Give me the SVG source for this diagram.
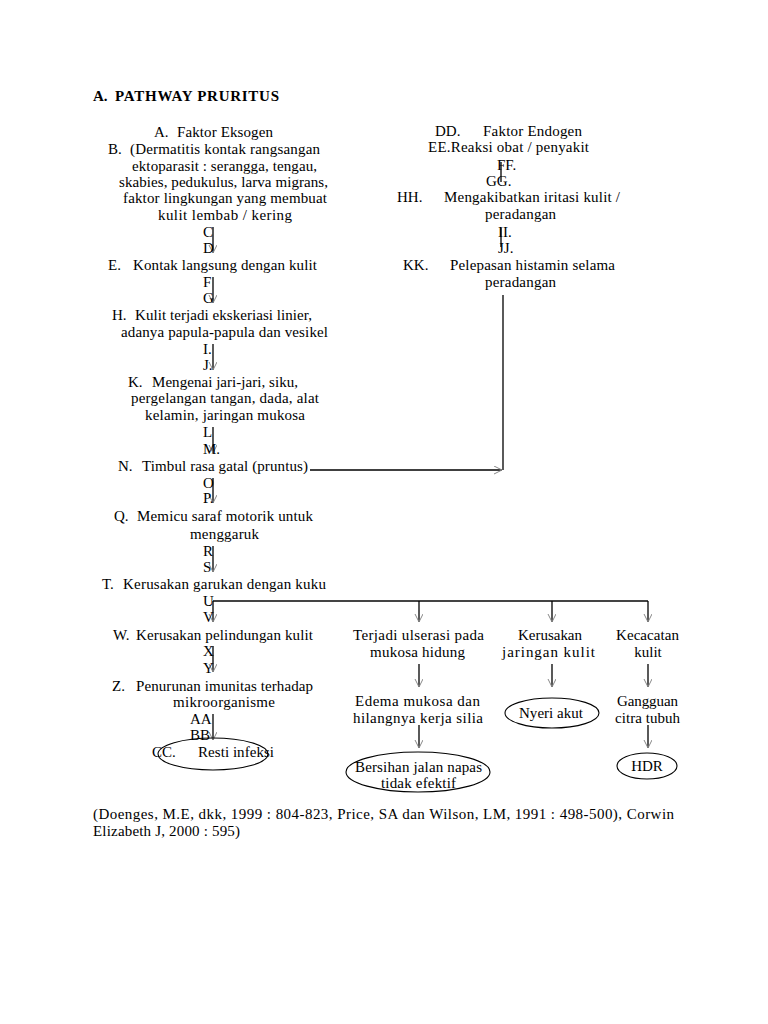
<svg xmlns="http://www.w3.org/2000/svg" width="768" height="1024" viewBox="0 0 768 1024">
<style>
.t{font-family:"Liberation Serif","Times New Roman",serif;font-size:15px;fill:#000}
.b{font-family:"Liberation Serif","Times New Roman",serif;font-size:15px;font-weight:bold;fill:#000}
.m{text-anchor:middle}
.ln{stroke:#000;stroke-width:1.3;fill:none}
.ar{stroke:#000;stroke-width:1.3;fill:none;marker-end:url(#ah)}
.br{stroke:#444;stroke-width:1.8;fill:none}
.el{stroke:#000;stroke-width:1.1;fill:none}
</style>
<defs>
<marker id="ah" markerUnits="userSpaceOnUse" markerWidth="10" markerHeight="10" refX="8" refY="4" orient="auto">
<path d="M0,0 L8,4 L0,8" fill="none" stroke="#888" stroke-width="1"/>
</marker>
</defs>
<rect width="768" height="1024" fill="#fff"/>
<g id="title">
<text class="b" x="93" y="101">A.</text>
<text class="b" x="115" y="101" textLength="164">PATHWAY PRURITUS</text>
</g>
<g id="connectors">
<line class="ar" x1="213" y1="227" x2="213" y2="253"/>
<line class="ar" x1="213" y1="277" x2="213" y2="303"/>
<line class="ar" x1="213" y1="344" x2="213" y2="370"/>
<line class="ar" x1="213" y1="427" x2="213" y2="453"/>
<line class="ar" x1="213" y1="478" x2="213" y2="503"/>
<line class="ar" x1="213" y1="546" x2="213" y2="572"/>
<line class="ar" x1="213" y1="646" x2="213" y2="672"/>
<line class="ar" x1="213" y1="714" x2="213" y2="740"/>
<line class="ln" x1="501" y1="162" x2="501" y2="182"/>
<line class="ln" x1="501" y1="228" x2="501" y2="247"/>
<line class="ln" x1="503" y1="295" x2="503" y2="470"/>
<line class="ar" x1="310" y1="470" x2="502" y2="470"/>
<line class="br" x1="213" y1="601" x2="648" y2="601"/>
<line class="ar" x1="213" y1="601" x2="213" y2="622"/>
<line class="ar" x1="419" y1="601" x2="419" y2="622"/>
<line class="ar" x1="552" y1="601" x2="552" y2="622"/>
<line class="ar" x1="648" y1="601" x2="648" y2="622"/>
<line class="ar" x1="419" y1="664" x2="419" y2="687"/>
<line class="ar" x1="552" y1="664" x2="552" y2="687"/>
<line class="ar" x1="648" y1="664" x2="648" y2="687"/>
<line class="ar" x1="419" y1="725" x2="419" y2="748"/>
<line class="ar" x1="648" y1="725" x2="648" y2="748"/>
</g>
<g id="nA"><text class="t" x="154" y="137">A.</text><text class="t" x="177" y="137" textLength="96">Faktor Eksogen</text></g>
<g id="nB">
<text class="t" x="108" y="154">B.</text>
<text class="t" x="130" y="154" textLength="190">(Dermatitis kontak rangsangan</text>
<text class="t" x="132" y="171" textLength="185">ektoparasit : serangga, tengau,</text>
<text class="t" x="119" y="187" textLength="209">skabies, pedukulus, larva migrans,</text>
<text class="t" x="123" y="203" textLength="204">faktor lingkungan yang membuat</text>
<text class="t" x="158" y="220" textLength="134">kulit  lembab / kering</text>
</g>
<g id="lCD"><text class="t" x="203" y="237">C</text><text class="t" x="203" y="253">D</text></g>
<g id="nE"><text class="t" x="108" y="270">E.</text><text class="t" x="133" y="270" textLength="184">Kontak langsung dengan kulit</text></g>
<g id="lFG"><text class="t" x="203" y="287">F</text><text class="t" x="203" y="303">G</text></g>
<g id="nH">
<text class="t" x="112" y="320">H.</text>
<text class="t" x="135" y="320" textLength="177">Kulit terjadi ekskeriasi linier,</text>
<text class="t" x="121" y="337" textLength="207">adanya papula-papula dan vesikel</text>
</g>
<g id="lIJ"><text class="t" x="203" y="354">I.</text><text class="t" x="203" y="370">J.</text></g>
<g id="nK">
<text class="t" x="128" y="387">K.</text>
<text class="t" x="152" y="387" textLength="146">Mengenai jari-jari, siku,</text>
<text class="t" x="131" y="403" textLength="188">pergelangan tangan, dada, alat</text>
<text class="t" x="145" y="420" textLength="160">kelamin, jaringan mukosa</text>
</g>
<g id="lLM"><text class="t" x="203" y="437">L</text><text class="t" x="203" y="454">M.</text></g>
<g id="nN"><text class="t" x="118" y="471">N.</text><text class="t" x="142" y="471" textLength="166">Timbul rasa gatal (pruntus)</text></g>
<g id="lOP"><text class="t" x="203" y="488">O</text><text class="t" x="203" y="503">P.</text></g>
<g id="nQ">
<text class="t" x="114" y="521">Q.</text>
<text class="t" x="137" y="521" textLength="176">Memicu saraf motorik untuk</text>
<text class="t" x="190" y="539" textLength="69">menggaruk</text>
</g>
<g id="lRS"><text class="t" x="203" y="556">R</text><text class="t" x="203" y="572">S</text></g>
<g id="nT"><text class="t" x="102" y="589">T.</text><text class="t" x="123" y="589" textLength="203">Kerusakan garukan dengan kuku</text></g>
<g id="lUV"><text class="t" x="203" y="606">U</text><text class="t" x="203" y="622">V</text></g>
<g id="nW"><text class="t" x="113" y="640">W.</text><text class="t" x="136" y="640" textLength="177">Kerusakan pelindungan kulit</text></g>
<g id="lXY"><text class="t" x="203" y="656">X</text><text class="t" x="203" y="673">Y</text></g>
<g id="nZ">
<text class="t" x="112" y="691">Z.</text>
<text class="t" x="136" y="691" textLength="177">Penurunan imunitas terhadap</text>
<text class="t" x="173" y="707" textLength="102">mikroorganisme</text>
</g>
<g id="nCC">
<ellipse class="el" cx="213" cy="754" rx="55" ry="16"/>
<text class="t" x="190" y="724">AA</text>
<text class="t" x="190" y="740">BB</text>
<text class="t" x="152" y="757">CC.</text>
<text class="t" x="198" y="757" textLength="76">Resti infeksi</text>
</g>
<g id="nDD"><text class="t" x="435" y="136">DD.</text><text class="t" x="483" y="136" textLength="99">Faktor Endogen</text></g>
<g id="nEE"><text class="t" x="428" y="152" textLength="161">EE.Reaksi obat / penyakit</text></g>
<g id="lFFGG"><text class="t" x="497" y="170">FF.</text><text class="t" x="486" y="186">GG.</text></g>
<g id="nHH">
<text class="t" x="397" y="202">HH.</text>
<text class="t" x="444" y="202" textLength="176">Mengakibatkan iritasi kulit /</text>
<text class="t" x="485" y="219" textLength="71">peradangan</text>
</g>
<g id="lIIJJ"><text class="t" x="498" y="237">II.</text><text class="t" x="498" y="253">JJ.</text></g>
<g id="nKK">
<text class="t" x="403" y="270">KK.</text>
<text class="t" x="450" y="270" textLength="165">Pelepasan histamin selama</text>
<text class="t" x="485" y="287" textLength="71">peradangan</text>
</g>
<g id="nUlserasi">
<text class="t" x="353" y="640" textLength="131">Terjadi ulserasi pada</text>
<text class="t" x="370" y="657" textLength="95">mukosa hidung</text>
</g>
<g id="nEdema">
<text class="t" x="355" y="706" textLength="125">Edema mukosa dan</text>
<text class="t" x="353" y="723" textLength="130">hilangnya kerja silia</text>
</g>
<g id="nBersihan">
<ellipse class="el" cx="418" cy="772" rx="72" ry="20"/>
<text class="t" x="355" y="772" textLength="127">Bersihan jalan napas</text>
<text class="t" x="381" y="788" textLength="75">tidak efektif</text>
</g>
<g id="nKerusakan">
<text class="t" x="518" y="640" textLength="64">Kerusakan</text>
<text class="t" x="502" y="657" textLength="93">jaringan kulit</text>
</g>
<g id="nNyeri">
<ellipse class="el" cx="552" cy="713" rx="47" ry="15"/>
<text class="t" x="519" y="718" textLength="64">Nyeri akut</text>
</g>
<g id="nKecacatan">
<text class="t" x="616" y="640" textLength="63">Kecacatan</text>
<text class="t m" x="648" y="657">kulit</text>
</g>
<g id="nGangguan">
<text class="t" x="617" y="706" textLength="61">Gangguan</text>
<text class="t" x="615" y="723" textLength="65">citra tubuh</text>
</g>
<g id="nHDR">
<ellipse class="el" cx="647" cy="766" rx="30" ry="13"/>
<text class="t m" x="647" y="771">HDR</text>
</g>
<g id="citation">
<text class="t" x="93" y="819" textLength="581">(Doenges, M.E, dkk, 1999 : 804-823, Price, SA dan Wilson, LM, 1991 : 498-500), Corwin</text>
<text class="t" x="93" y="836" textLength="147">Elizabeth J, 2000 : 595)</text>
</g>
</svg>
